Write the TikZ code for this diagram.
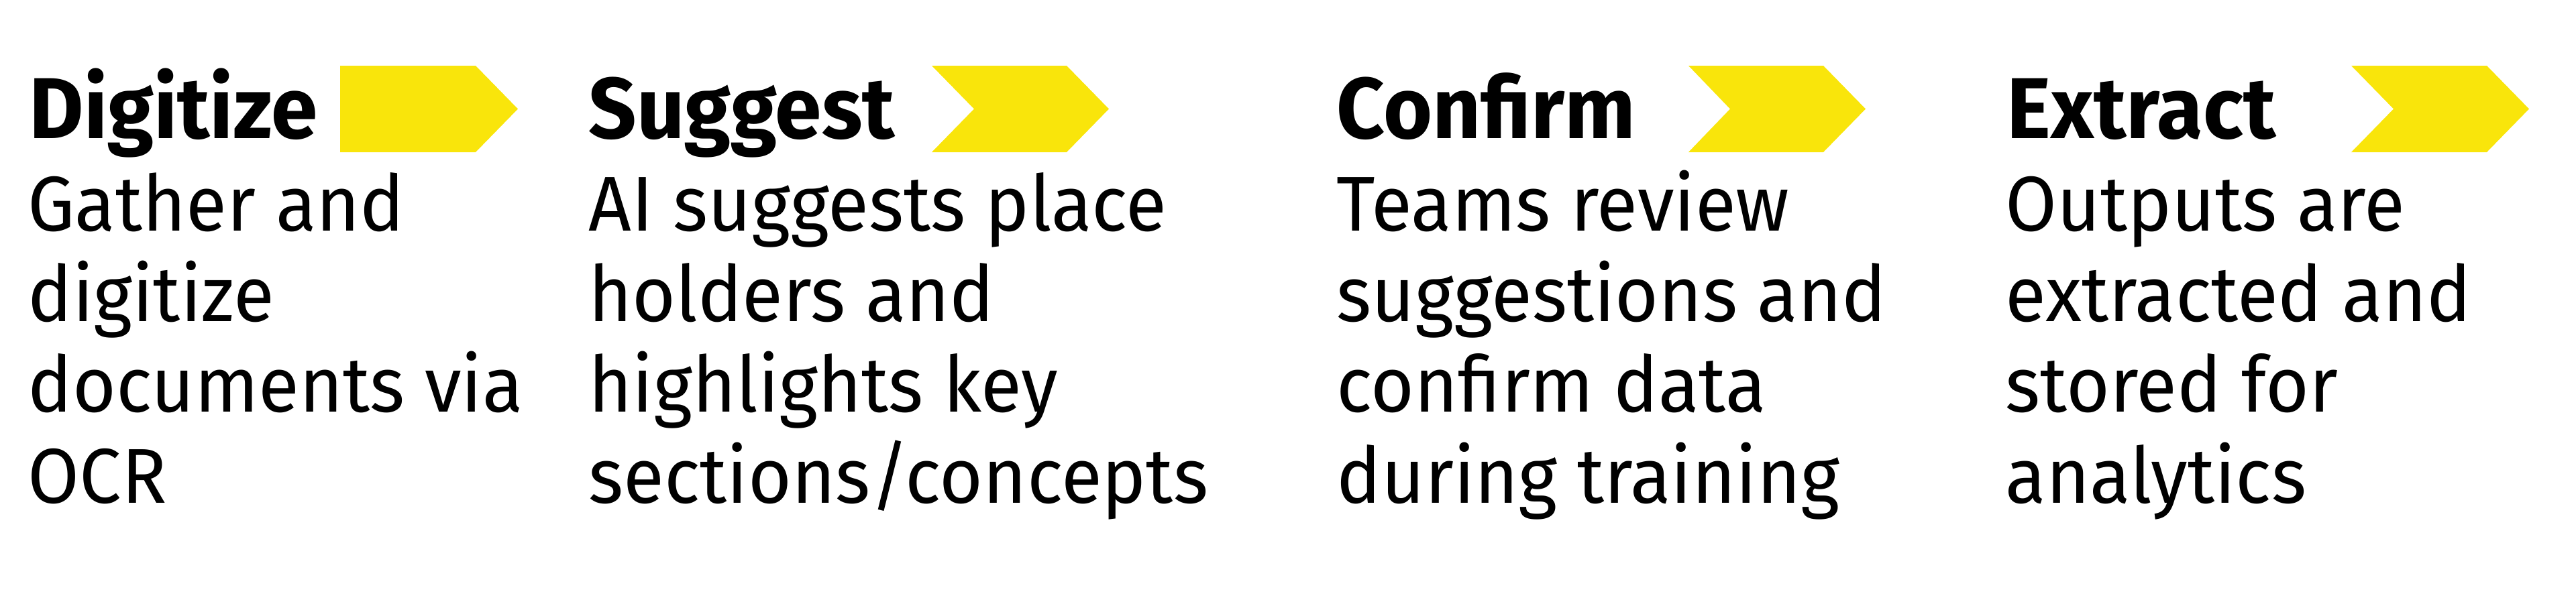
\documentclass[tikz,border=0pt]{standalone}
\usepackage{fontspec}
\setmainfont{Fira Sans}
\newfontfamily\bodyfont[FakeStretch=0.96]{Fira Sans}
\newfontfamily\headfont[FakeStretch=0.97]{Fira Sans}
\definecolor{eyyellow}{RGB}{249,229,11}
\tikzset{
  head/.style={anchor=base west,inner sep=0pt,font=\headfont\fontsize{36.7}{40}\selectfont\bfseries},
  body/.style={anchor=base west,inner sep=0pt,align=left,font=\bodyfont\fontsize{33}{38.5}\selectfont},
  tag/.style={fill=eyyellow}
}
\begin{document}
\begin{tikzpicture}[x=1mm,y=1mm]
 \useasboundingbox (0,0) rectangle (384,90);
 % step 1
 \node[head] (dig) at (4.3,69.4) {Digitize};
 \node[body] (digtxt) at (4.1,15.0) {Gather and\\digitize\\documents via\\OCR};
 \fill[tag] (50.7,80.2) -- (70.9,80.2) -- (77.2,73.75) -- (70.9,67.3) -- (50.7,67.3) -- cycle;
 % step 2
 \node[head] (sug) at (87.7,69.4) {Suggest};
 \node[body] (sugtxt) at (87.7,15.0) {AI suggests place\\holders and\\highlights key\\sections/concepts};
 \fill[tag] (138.9,80.2) -- (159.0,80.2) -- (165.3,73.75) -- (159.0,67.3) -- (138.9,67.3) -- (145.2,73.75) -- cycle;
 % step 3
 \node[head] (conf) at (199.2,69.4) {Confirm};
 \node[body] (conftxt) at (199.2,15.0) {Teams review\\suggestions and\\confirm data\\during training};
 \fill[tag] (251.7,80.2) -- (271.8,80.2) -- (278.1,73.75) -- (271.8,67.3) -- (251.7,67.3) -- (257.9,73.75) -- cycle;
 % step 4
 \node[head] (extr) at (299.1,69.4) {Extract};
 \node[body] (extrtxt) at (298.9,15.0) {Outputs are\\extracted and\\stored for\\analytics};
 \fill[tag] (350.5,80.2) -- (370.7,80.2) -- (377.0,73.75) -- (370.7,67.3) -- (350.5,67.3) -- (356.8,73.75) -- cycle;
\end{tikzpicture}
\end{document}
